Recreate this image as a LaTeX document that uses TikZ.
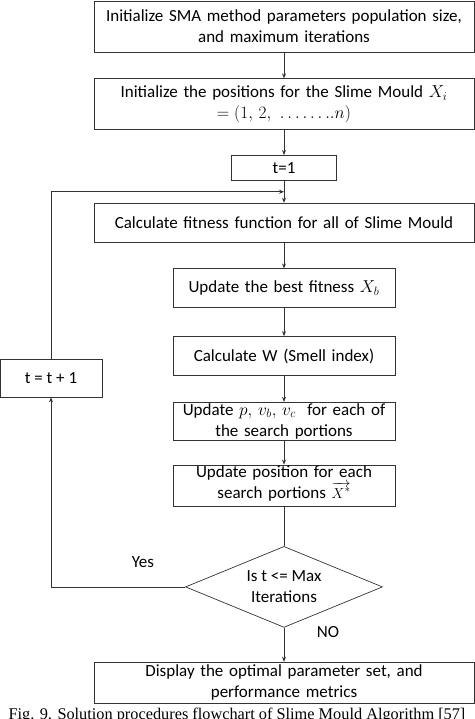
\documentclass[tikz,border=0pt]{standalone}
\usepackage{amsmath}
\usepackage[no-math]{fontspec}
\setmainfont{Carlito}
\newfontfamily\capfont{Liberation Serif}
\usetikzlibrary{arrows.meta,positioning,shapes.geometric}
\tikzset{
  >={Stealth[length=5pt,width=4pt]},
  flow/.style ={x=1pt, y=1pt, line width=0.7pt, draw=black!80},
  blk/.style  ={draw, rectangle, inner sep=0.5pt, align=center, font=\fontsize{17}{21}\selectfont},
  wide/.style ={blk, minimum width=380pt, text width=376pt, minimum height=51pt},
  mid/.style  ={blk, minimum width=222pt, text width=220pt, minimum height=39pt},
  dec/.style  ={draw, diamond, aspect=2.43, minimum width=197pt, minimum height=81pt,
                inner sep=0pt, align=center, font=\fontsize{17}{21}\selectfont},
  lbl/.style  ={font=\fontsize{17}{21}\selectfont}
}
\begin{document}
\begin{tikzpicture}[flow]
\useasboundingbox (0,0) rectangle (474,-719);
\node[wide] (init) at (284,-26.5) {Initialize SMA method parameters population size,\\ and maximum iterations};
\node[wide, below=26pt of init] (pos0) {Initialize the positions for the Slime Mould $X_i$\\ \mbox{$=(1,\,2,\ \ldots\ldots..n)$}};
\node[blk, minimum width=105pt, minimum height=25pt, below=25pt of pos0] (t1) {t=1};
\node[wide, minimum height=39pt, below=22pt of t1] (fit) {Calculate fitness function for all of Slime Mould};
\node[mid, below=26pt of fit] (best) {Update the best fitness $X_b$};
\node[mid, below=28pt of best] (smell) {Calculate W (Smell index)};
\node[mid, minimum height=38pt, below=26pt of smell] (upd) {Update $p,\, v_b,\, v_c$\ \ for each of\\ the search portions};
\node[mid, minimum height=38pt, below=24pt of upd] (move) {Update position for each\\ search portions {\fontsize{15}{15}\selectfont\smash{$\overrightarrow{X^{*}}$}}\rule[-8pt]{0pt}{1pt}};
\node[dec, below=39pt of move] (chk) {Is t <= Max\\ Iterations};
\node[wide, minimum height=41pt, below=34pt of chk] (disp) {Display the optimal parameter set, and\\ performance metrics};
\node[blk, minimum width=102pt, minimum height=38pt] (inc) at (51,-378) {t = t + 1};
% connectors
\path (t1.south) -- coordinate[pos=.5] (join) (fit.north);
\draw[->] (init) -- (pos0);
\draw[->] (pos0) -- (t1);
\draw[->] (t1) -- (fit);
\draw[->] (fit) -- (best);
\draw[->] (best) -- (smell);
\draw[->] (smell) -- (upd);
\draw[->] (upd) -- (move);
\draw (move) -- (chk);
\draw[->] (chk) -- (disp);
\draw[->] (chk.west) -| (inc.south);
\draw[->] (inc.north) |- (join);
\node[lbl] (yes) at (143,-562) {Yes};
\node[lbl] (no) at (328,-632) {NO};
\node[font=\capfont\fontsize{16.3}{18}\selectfont, anchor=base] (cap) at (237,-719) {Fig. 9. Solution procedures flowchart of Slime Mould Algorithm [57]};
\end{tikzpicture}
\end{document}
